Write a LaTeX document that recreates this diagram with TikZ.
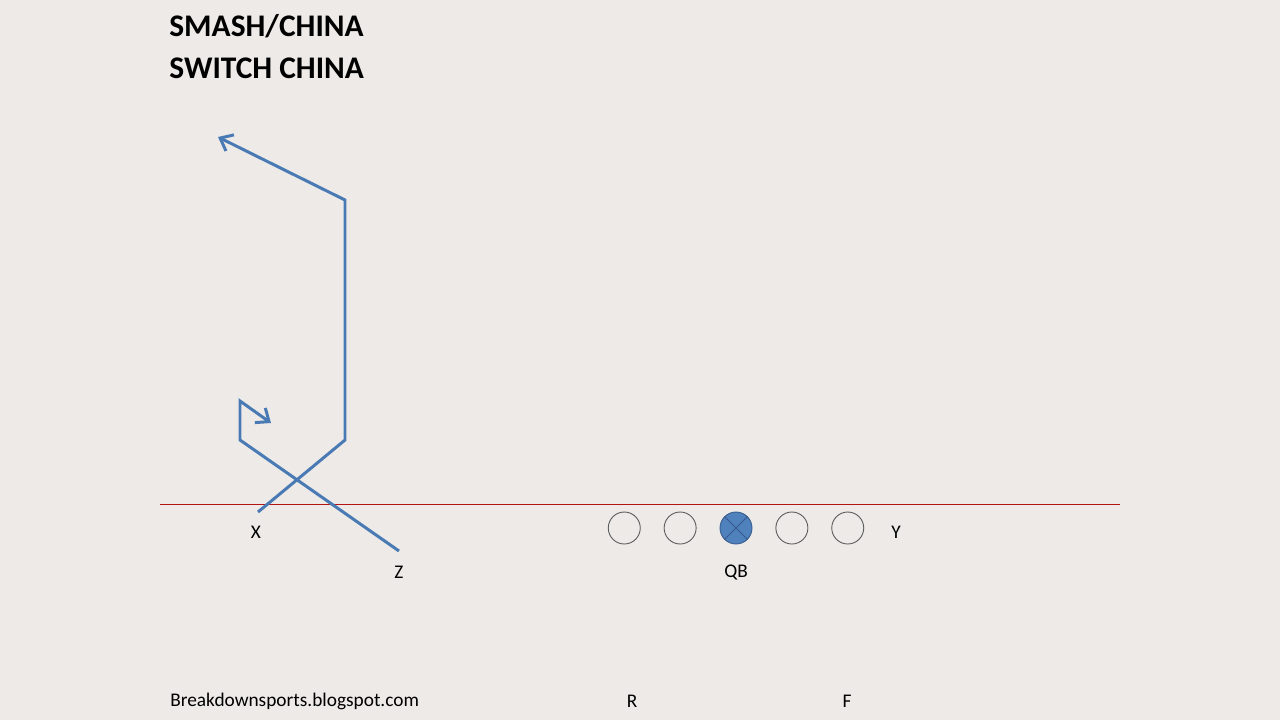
\documentclass[tikz,border=0pt]{standalone}
\usepackage{fontspec}
\setmainfont{Carlito}
\usetikzlibrary{positioning,arrows.meta}
\definecolor{field}{RGB}{237,234,232}
\definecolor{route}{RGB}{74,122,180}
\definecolor{los}{RGB}{180,20,20}
\definecolor{qbfill}{RGB}{79,129,189}
\definecolor{qbline}{RGB}{55,90,140}
\tikzset{
  player/.style={draw=black!65,circle,minimum size=0.64cm,inner sep=0pt,line width=0.5pt},
  tag/.style={font=\fontsize{11}{13}\selectfont,inner sep=0pt},
  path/.style={route,line width=1.7pt,line join=miter},
  tip/.style={-{Straight Barb[length=2.2mm,width=3.6mm,line width=1.7pt]}}
}

\begin{document}
\begin{tikzpicture}[x=0.02cm,y=-0.02cm]
\fill[field] (0,0) rectangle (1280,720);
\useasboundingbox (0,0) rectangle (1280,720);

\node[anchor=north west,inner sep=0pt,align=left,font=\fontsize{17.9}{23.8}\selectfont\bfseries] (title) at (169,14) {SMASH/CHINA\\SWITCH CHINA};

% line of scrimmage
\coordinate (losl) at (160,504);
\coordinate (losr) at (1120,504);
\draw[los,line width=0.5pt] (losl) -- (losr);

% line
\node[player,fill=qbfill,draw=qbline] (c) at (736,528){};
\draw[qbline,line width=0.5pt] (c.north west) -- (c.south east);
\draw[qbline,line width=0.5pt] (c.north east) -- (c.south west);
\node[player, left=0.46cm of c](lg){};
\node[player, left=0.46cm of lg](lt){};
\node[player, right=0.46cm of c](rg){};
\node[player, right=0.46cm of rg](rt){};

\node[tag] (qb) at (736,572){QB};
\node[tag] (y) at (896,532){Y};
\node[tag] (x) at (256,532){X};
\node[tag] (z) at (399,572){Z};
\node[tag] (r) at (632,701){R};
\node[tag] (f) at (847,701){F};
\node[tag,anchor=west] (site) at (170,701){Breakdownsports.blogspot.com};

% X route
\coordinate (x0) at (258,512);
\coordinate (x1) at (345,440);
\coordinate (x2) at (345,200);
\coordinate (x3) at (218,137);
\draw[path,tip] (x0) -- (x1) -- (x2) -- (x3);

% Z route
\coordinate (z0) at (399,551);
\coordinate (z1) at (240,440);
\coordinate (z2) at (240,401);
\coordinate (z3) at (271,423);
\draw[path,tip] (z0) -- (z1) -- (z2) -- (z3);
\end{tikzpicture}
\end{document}
